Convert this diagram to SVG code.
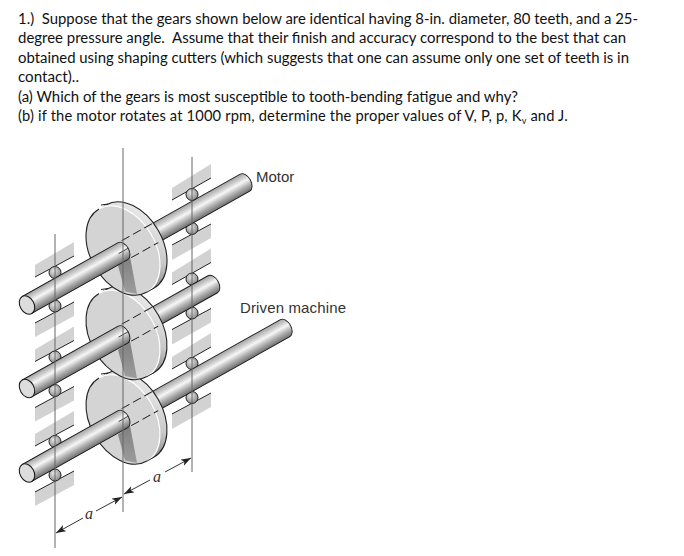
<svg xmlns="http://www.w3.org/2000/svg" width="684" height="556" viewBox="0 0 684 556">
<style>
.h{font-family:"Lato","Open Sans",sans-serif;font-size:15.6px;fill:#111;white-space:pre}
.l{font-family:"Liberation Sans",Arial,sans-serif;font-size:15px;fill:#333}
.a{font-family:"Liberation Serif",serif;font-style:italic;font-size:16px;fill:#333}
.band{fill:#d2d2d2}
.bl{stroke:#222;stroke-width:1;fill:none}
.v{stroke:#666;stroke-width:1;fill:none}
.ball{fill:url(#ballG);stroke:#222;stroke-width:1}
.shaft{fill:url(#shaftG);stroke:#1a1a1a;stroke-width:.9}
.cap{fill:#dcdcdc;stroke:#1a1a1a;stroke-width:1.1}
.dash{stroke:#1a1a1a;stroke-width:.9;stroke-dasharray:9 4;fill:none}
.dim{stroke:#333;stroke-width:1;fill:none;marker-end:url(#arr)}
</style>
<defs>
<linearGradient id="shaftG" x1="0" y1="0" x2="0" y2="1">
<stop offset="0" stop-color="#a4a4a4"/><stop offset=".2" stop-color="#c8c8c8"/><stop offset=".42" stop-color="#f6f6f6"/><stop offset=".7" stop-color="#b0b0b0"/><stop offset="1" stop-color="#6e6e6e"/>
</linearGradient>
<radialGradient id="ballG" cx=".4" cy=".35" r=".75"><stop offset="0" stop-color="#e4e4e4"/><stop offset="1" stop-color="#808080"/></radialGradient>
<linearGradient id="rimG" gradientUnits="userSpaceOnUse" x1="-15" y1="-45" x2="30" y2="40">
<stop offset="0" stop-color="#f2f2f2"/><stop offset=".45" stop-color="#c8c8c8"/><stop offset=".75" stop-color="#808080"/><stop offset="1" stop-color="#707070"/>
</linearGradient>
<linearGradient id="wedgeG" x1="0" y1="0" x2="0" y2="1"><stop offset="0" stop-color="#808080"/><stop offset="1" stop-color="#9c9c9c"/></linearGradient>
<marker id="arr" markerWidth="11" markerHeight="8" refX="10" refY="3.500" orient="auto" markerUnits="userSpaceOnUse"><path d="M0 0L10 3.500L0 7L2.500 3.500Z" fill="#222"/></marker>
<g id="gear">
<ellipse cx="7" cy="-4" rx="48" ry="32.5" transform="rotate(60 7 -4)" fill="url(#rimG)" stroke="#222" stroke-width="1.1"/>
<path d="M-24-41.6L-17-45.6L31 37.6L24 41.6Z" fill="url(#rimG)"/>
<ellipse cx="0" cy="0" rx="48" ry="32.5" transform="rotate(60)" fill="#d4d4d4"/>
<path d="M-5 15L7 6L14 43.500L2 41Z" fill="url(#wedgeG)"/>
<path d="M-24-41.6A48 32.5 60 0 0 24 41.6" fill="none" stroke="#222" stroke-width="1.1"/>
<path d="M-24-41.6A48 32.5 60 0 1 24 41.6" fill="none" stroke="#fff" stroke-width="1.2"/>
<path d="M-22-45.500L-15-46.500M24 41.6L31 37.6" stroke="#222" stroke-width="1" fill="none"/>
</g>
<g id="bearL">
<path class="band" d="M35 265L74 242L74 256L35 277Z"/>
<path class="band" d="M35 323L74 302L74 316L35 337Z"/>
<path class="bl" d="M35 277L74 256M35 323L74 302"/>
<circle class="ball" cx="55" cy="272.500" r="6"/>
<circle class="ball" cx="55" cy="306" r="6"/>
</g>
<g id="bearR">
<path class="band" d="M172 188L211 164L211 178L172 200Z"/>
<path class="band" d="M172 245L211 224L211 238L172 260Z"/>
<path class="bl" d="M172 200L211 178M172 245L211 224"/>
<circle class="ball" cx="192" cy="194.500" r="6"/>
<circle class="ball" cx="192" cy="228.500" r="6"/>
</g>
</defs>
<rect width="684" height="556" fill="#fff"/>
<g id="question">
<text class="h" x="18" y="24" textLength="620" lengthAdjust="spacingAndGlyphs">1.)  Suppose that the gears shown below are identical having 8-in. diameter, 80 teeth, and a 25-</text>
<text class="h" x="18" y="43" textLength="608" lengthAdjust="spacingAndGlyphs">degree pressure angle.  Assume that their finish and accuracy correspond to the best that can</text>
<text class="h" x="18" y="63" textLength="611" lengthAdjust="spacingAndGlyphs">obtained using shaping cutters (which suggests that one can assume only one set of teeth is in</text>
<text class="h" x="18" y="82" textLength="61" lengthAdjust="spacingAndGlyphs">contact)..</text>
<text class="h" x="18" y="102" textLength="500" lengthAdjust="spacingAndGlyphs">(a) Which of the gears is most susceptible to tooth-bending fatigue and why?</text>
<text class="h" x="18" y="121" style="font-size:14.7px;letter-spacing:.155px">(b) if the motor rotates at 1000 rpm, determine the proper values of V, P, p, K<tspan dy="3" font-size="9">v</tspan><tspan dy="-3"> and J.</tspan></text>
</g>
<g id="bearings">
<use href="#bearL"/><use href="#bearL" y="84.500"/><use href="#bearL" y="169"/>
<use href="#bearR"/><use href="#bearR" y="84.500"/><use href="#bearR" y="169"/>
</g>
<g id="train3">
<path class="shaft" transform="translate(27 473) rotate(-29.3)" d="M130-9.750L296-9.750A6 9.750 0 0 1 296 9.750L130 9.750Z"/>
<use href="#gear" x="123" y="419.500"/>
<g transform="translate(27 473) rotate(-29.3)">
<path class="dash" d="M114-9.750L150-9.750M114 9.750L145 9.750"/>
<path class="shaft" d="M0-9.750L110-9.750A6 9.750 0 0 1 110 9.750L0 9.750Z"/>
<ellipse class="cap" cx="0" cy="0" rx="7" ry="9.750"/>
<path d="M105 0L116 0" stroke="#333" stroke-width=".8"/>
</g>
</g>
<g id="train2">
<path class="shaft" transform="translate(27 388.500) rotate(-29.3)" d="M130-9.750L213-9.750A6 9.750 0 0 1 213 9.750L130 9.750Z"/>
<use href="#gear" x="123" y="335"/>
<g transform="translate(27 388.500) rotate(-29.3)">
<path class="dash" d="M114-9.750L150-9.750M114 9.750L145 9.750"/>
<path class="shaft" d="M0-9.750L110-9.750A6 9.750 0 0 1 110 9.750L0 9.750Z"/>
<ellipse class="cap" cx="0" cy="0" rx="7" ry="9.750"/>
<path d="M105 0L116 0" stroke="#333" stroke-width=".8"/>
</g>
</g>
<g id="train1">
<path class="shaft" transform="translate(27 305) rotate(-29.3)" d="M130-9.750L250-9.750A6 9.750 0 0 1 250 9.750L130 9.750Z"/>
<use href="#gear" x="123" y="250.500"/>
<g transform="translate(27 305) rotate(-29.3)">
<path class="dash" d="M114-9.750L150-9.750M114 9.750L145 9.750"/>
<path class="shaft" d="M0-9.750L110-9.750A6 9.750 0 0 1 110 9.750L0 9.750Z"/>
<ellipse class="cap" cx="0" cy="0" rx="7" ry="9.750"/>
<path d="M105 0L116 0" stroke="#333" stroke-width=".8"/>
</g>
</g>
<g id="axes">
<path class="v" d="M55 234V548M123 148V512M192 157V472"/>
</g>
<g id="dimensions">
<path class="dim" d="M83 518L56 533"/>
<path class="dim" d="M96 511L122 497"/>
<path class="dim" d="M150 480L124 494"/>
<path class="dim" d="M165 472L191 458"/>
<text class="a" x="85" y="519">a</text>
<text class="a" x="153" y="482">a</text>
</g>
<g id="labels">
<text class="l" x="256" y="182">Motor</text>
<text class="l" x="240" y="313" textLength="106">Driven machine</text>
</g>
</svg>
